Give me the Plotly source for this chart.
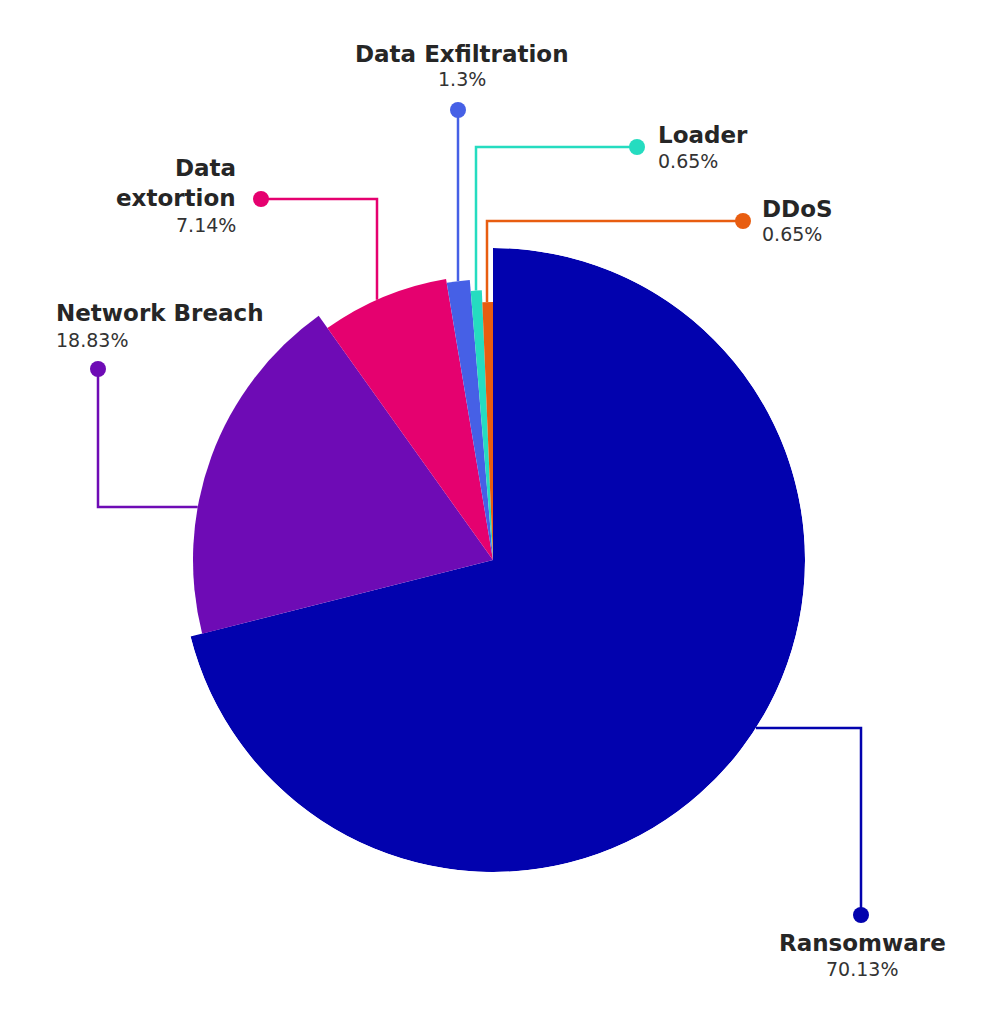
import math
import plotly.graph_objects as go

# ---------------- data ----------------
categories = ["Ransomware", "Network Breach", "Data extortion", "Data Exfiltration", "Loader", "DDoS"]
values = [70.13, 18.83, 7.14, 1.3, 0.65, 0.65]
value_labels = ["70.13%", "18.83%", "7.14%", "1.3%", "0.65%", "0.65%"]

# ---------------- style ----------------
W, H = 987, 1024
PAGE_OFF = 8                           # default body margin of the html page
CX, CY = 493, 560                      # pie centre (page px)
R_MAX = 312                            # outer radius of the largest slice (px)
radii_px = [312, 300, 285, 281, 270, 258]   # per-slice radius (style)
colors = ["#0202AE", "#6E0BB5", "#E5016F", "#4660E6", "#25DCC0", "#E85D10"]
NAME_COLOR = "#262626"
PCT_COLOR = "#333333"
FONT = "DejaVu Sans"
NAME_SIZE = 23
PCT_SIZE = 19

# leader-line layout (page px)
leaders = [
    dict(leg="h", side=1, y=728, elbow=(861, 728), dot=(861, 915), anchor="center", tx=862, ny=[943], pcty=969, name=["Ransomware"]),
    dict(leg="h", side=-1, y=507, elbow=(98, 507), dot=(98, 369), anchor="left", tx=54, ny=[313], pcty=340, name=["Network Breach"]),
    dict(leg="v", x=377, elbow=(377, 199), dot=(261, 199), anchor="right", tx=238, ny=[168, 198], pcty=225, name=["Data", "extortion"]),
    dict(leg="v", x=458, elbow=(458, 110), dot=(458, 110), anchor="center", tx=462, ny=[54], pcty=79, name=["Data Exfiltration"]),
    dict(leg="v", x=476, elbow=(476, 147), dot=(637, 147), anchor="left", tx=656, ny=[135], pcty=161, name=["Loader"]),
    dict(leg="v", x=487, elbow=(487, 221), dot=(743, 221), anchor="left", tx=760, ny=[209], pcty=234, name=["DDoS"]),
]

# ---------------- geometry from data ----------------
total = sum(values)
widths = [v / total * 360 for v in values]
mids = []
acc = 0.0
for w in widths:
    mids.append(acc + w / 2)
    acc += w

fig = go.Figure()
fig.add_trace(go.Barpolar(
    r=radii_px, theta=mids, width=widths,
    marker=dict(color=colors, line=dict(width=0)),
    text=categories, hoverinfo="text", showlegend=False,
))

annotations = []
for i, L in enumerate(leaders):
    r = radii_px[i]
    if L["leg"] == "h":
        y = L["y"]
        sx = CX + L["side"] * math.sqrt(r * r - (y - CY) ** 2)
        start = (sx, y)
    else:
        x = L["x"]
        sy = CY - math.sqrt(r * r - (x - CX) ** 2)
        start = (x, sy)
    pts = [start, L["elbow"], L["dot"]]
    fig.add_trace(go.Scatter(
        x=[p[0] for p in pts], y=[p[1] for p in pts],
        mode="lines", line=dict(color=colors[i], width=2.5),
        hoverinfo="skip", showlegend=False, xaxis="x", yaxis="y",
    ))
    fig.add_trace(go.Scatter(
        x=[L["dot"][0]], y=[L["dot"][1]], mode="markers",
        marker=dict(color=colors[i], size=16, line=dict(width=0)),
        hoverinfo="skip", showlegend=False, xaxis="x", yaxis="y",
    ))
    xanchor = L["anchor"]
    for txt, ty in zip(L["name"], L["ny"]):
        annotations.append(dict(
            x=L["tx"], y=ty, xref="x", yref="y", text="<b>" + txt + "</b>",
            showarrow=False, xanchor=xanchor, yanchor="middle",
            font=dict(family=FONT, size=NAME_SIZE, color=NAME_COLOR),
        ))
    annotations.append(dict(
        x=L["tx"], y=L["pcty"], xref="x", yref="y", text=value_labels[i],
        showarrow=False, xanchor=xanchor, yanchor="middle",
        font=dict(family=FONT, size=PCT_SIZE, color=PCT_COLOR),
    ))

fx = lambda px: (px - PAGE_OFF) / W
fy = lambda py: 1 - (py - PAGE_OFF) / H

fig.update_layout(
    width=W, height=H,
    margin=dict(l=0, r=0, t=0, b=0),
    paper_bgcolor="white", plot_bgcolor="rgba(0,0,0,0)",
    polar=dict(
        domain=dict(x=[fx(CX - R_MAX), fx(CX + R_MAX)],
                    y=[fy(CY + R_MAX), fy(CY - R_MAX)]),
        bgcolor="rgba(0,0,0,0)",
        angularaxis=dict(direction="clockwise", rotation=90, visible=False,
                         showgrid=False, showline=False, ticks=""),
        radialaxis=dict(range=[0, R_MAX], visible=False, showgrid=False),
    ),
    xaxis=dict(range=[PAGE_OFF, W + PAGE_OFF], domain=[0, 1], visible=False, fixedrange=True),
    yaxis=dict(range=[H + PAGE_OFF, PAGE_OFF], domain=[0, 1], visible=False, fixedrange=True),
    annotations=annotations,
    showlegend=False,
)

fig.write_html("out.html")
